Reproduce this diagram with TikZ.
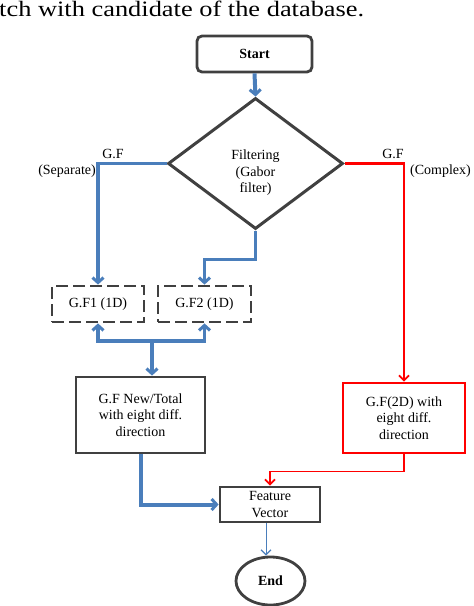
\documentclass[tikz,border=0pt]{standalone}
\usepackage{fontspec}
\setmainfont{Liberation Serif}
\newfontfamily\capfont[FakeStretch=1.2]{Liberation Serif}
\usetikzlibrary{shapes.geometric,arrows.meta}
\definecolor{dgrey}{HTML}{404040}
\definecolor{fblue}{HTML}{4A7EBB}
\definecolor{fred}{HTML}{FF0000}
\tikzset{
  lbl/.style={font=\fontsize{14}{16.5}\selectfont, inner sep=0pt, align=center},
  greybox/.style={draw=dgrey, line width=2.8pt, rectangle, lbl},
  dashbox/.style={greybox, dash pattern=on 12pt off 5pt},
  redbox/.style={draw=fred, line width=2.8pt, rectangle, lbl},
  bluethick/.style={draw=fblue, line width=3.2pt, -{Straight Barb[length=5pt,width=11pt,line width=3pt]}},
  bluebi/.style={draw=fblue, line width=3.2pt, {Straight Barb[length=5pt,width=11pt,line width=3pt]}-{Straight Barb[length=5pt,width=11pt,line width=3pt]}},
  bluethin/.style={draw=fblue, line width=1pt, -{Straight Barb[length=5pt,width=10pt,line width=1.2pt]}},
  redline/.style={draw=fred, line width=1.8pt, -{Straight Barb[length=5pt,width=10pt,line width=1.8pt]}},
}
\begin{document}
\begin{tikzpicture}[x=1pt,y=-1pt]
\useasboundingbox (0,0) rectangle (474,606);
\node[anchor=base west, inner sep=0pt, font=\capfont\fontsize{22}{26}\selectfont] (cap) at (-1,16) {tch with candidate of the database.};

\node[greybox, rounded corners=5pt, minimum width=115pt, minimum height=36pt, font=\fontsize{14}{16.5}\selectfont\bfseries] (start) at (254.5,54) {Start};
\node[diamond, draw=dgrey, line width=3pt, minimum width=175pt, minimum height=131pt, inner sep=0pt] (dia) at (255.5,163.5) {};
\node[lbl] (diatxt) at (255.5,173) {Filtering\\(Gabor\\filter)};

\node[dashbox, minimum width=92pt, minimum height=36pt] (gf1) at (98,304) {G.F1 (1D)};
\node[dashbox, minimum width=93pt, minimum height=36pt] (gf2) at (204.5,304) {G.F2 (1D)};
\node[greybox, minimum width=129pt, minimum height=76pt] (gfn) at (140.5,415) {G.F New/Total\\with eight diff.\\direction};
\node[redbox, minimum width=122pt, minimum height=70pt] (gf2d) at (404,418) {G.F(2D) with\\eight diff.\\direction};
\node[greybox, minimum width=100pt, minimum height=35pt] (fv) at (270,504.5) {Feature\\Vector};
\node[ellipse, draw=dgrey, line width=2.8pt, minimum width=69pt, minimum height=48pt, lbl, font=\fontsize{14}{16.5}\selectfont\bfseries] (endn) at (270.5,581) {End};

\node[lbl, anchor=base] (lgf1) at (113,158) {G.F};
\node[lbl, anchor=base east] (lsep) at (96,174) {(Separate)};
\node[lbl, anchor=base] (lgf2) at (393,158) {G.F};
\node[lbl, anchor=base west] (lcom) at (410,174) {(Complex)};

\coordinate (j) at (152,341);

\draw[bluethick, line width=4pt] (start.south) -- (dia.north);
\draw[bluethick] (dia.west) -| (gf1.north);
\draw[bluethick] (dia.south) -- ++(0,29) -| (gf2.north);
\draw[redline, line width=2.4pt] (dia.east) -| (gf2d.north);
\draw[bluebi] (gf1.south) -- (gf1.south |- j) -- (gf2.south |- j) -- (gf2.south);
\draw[bluethick] (j) -- (j |- gfn.north);
\draw[bluethick, line width=4pt] (gfn.south) |- (fv.west);
\draw[redline] (gf2d.south) -- ++(0,17) -| (fv.north);
\draw[bluethin] ([xshift=-4pt]fv.south) -- ([xshift=-4pt]fv.south |- endn.north);
\end{tikzpicture}
\end{document}
